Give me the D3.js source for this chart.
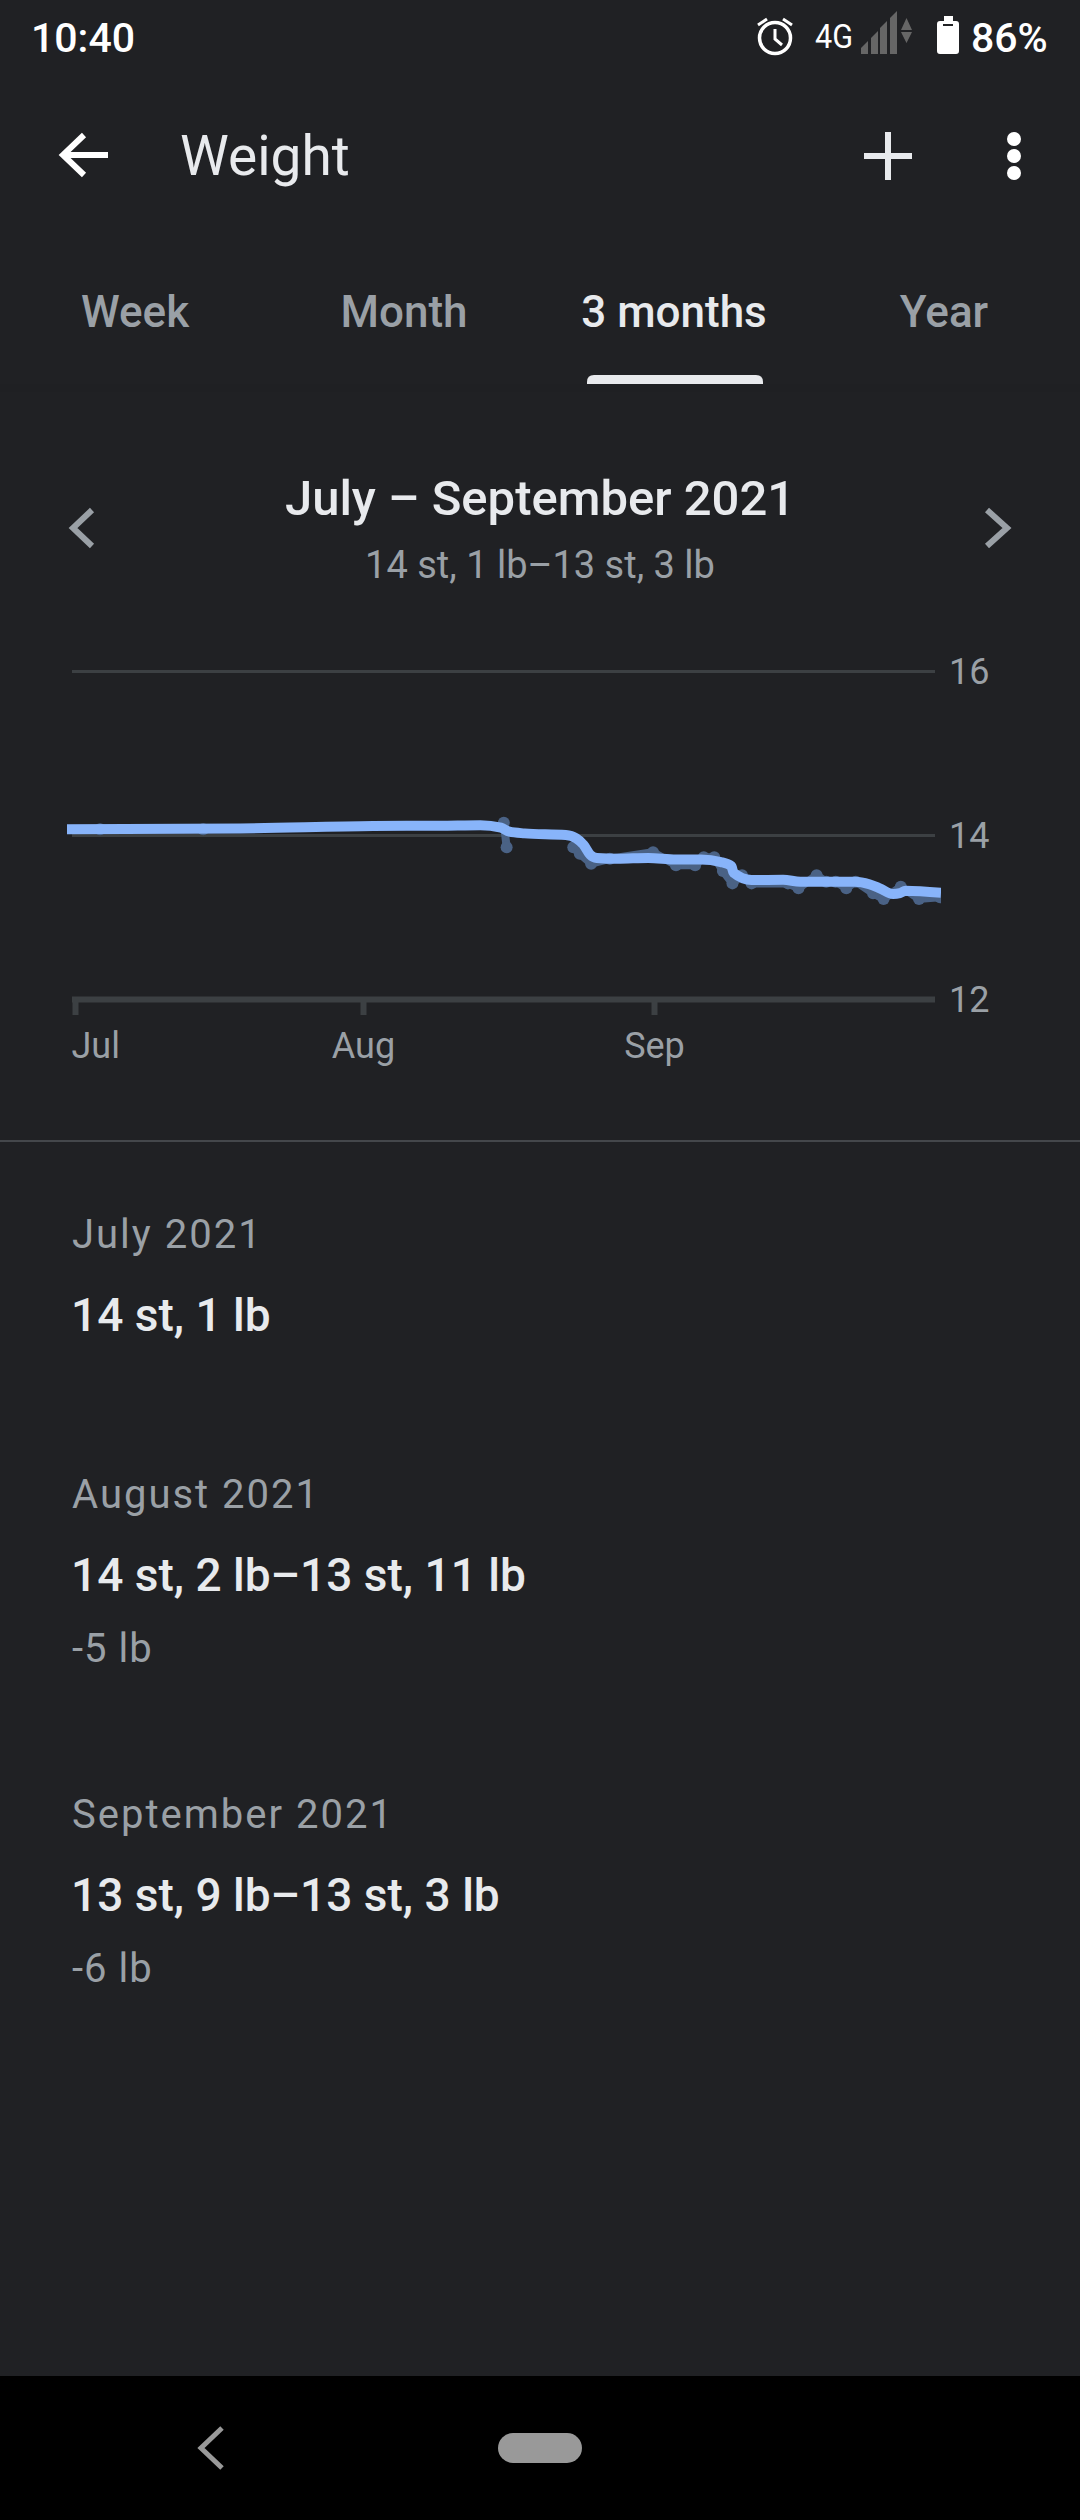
<!DOCTYPE html>
<html>
<head>
<meta charset="utf-8">
<script src="https://cdn.jsdelivr.net/npm/d3@7"></script>
<style>
  html, body { margin: 0; padding: 0; background: #202124; }
  svg { display: block; }
  text { font-family: Roboto, sans-serif; }
</style>
</head>
<body>
<svg width="1080" height="2520"></svg>
<script>
// Days counted from 1 July 2021
const trendDays = [-0.9, 17.8, 32.1, 39.2, 43.5, 45.7, 46.6, 48.2, 52.6, 53.7, 54.5, 55.2, 55.9, 58.1, 61.4, 64.3, 66.9, 69.0, 70.1, 70.3, 72.2, 75.5, 77.3, 83.0, 84.5, 85.6, 87.0, 87.7, 88.3, 92];
const trendStone = [14.07, 14.08, 14.11, 14.113, 14.12, 14.09, 14.04, 14.02, 14.0, 13.96, 13.88, 13.76, 13.72, 13.71, 13.72, 13.70, 13.70, 13.67, 13.62, 13.54, 13.45, 13.455, 13.43, 13.43, 13.40, 13.35, 13.28, 13.29, 13.32, 13.295];
const readingDays = [2.7, 13.8, 46, 46.3, 53.4, 54.1, 55.3, 57.3, 61.9, 64.3, 66.3, 67.2, 68.3, 69.2, 70.2, 71.2, 72.2, 76, 77.1, 79, 80, 81, 82.1, 83.1, 84.9, 86, 87.8, 89.7, 91.9];
const readingStone = [14.07, 14.07, 14.15, 13.85, 13.85, 13.77, 13.65, 13.71, 13.79, 13.63, 13.63, 13.73, 13.73, 13.56, 13.41, 13.51, 13.41, 13.41, 13.35, 13.51, 13.43, 13.43, 13.35, 13.43, 13.29, 13.22, 13.37, 13.22, 13.24];

const monthDays = [0, 31, 62];
const monthLabels = ["Jul", "Aug", "Sep"];
const stoneTicks = [12, 14, 16];

const tabLabels = ["Week", "Month", "3 months", "Year"];
const periodLabels = ["July 2021", "August 2021", "September 2021"];
const periodRanges = ["14 st, 1 lb", "14 st, 2 lb\u201313 st, 11 lb", "13 st, 9 lb\u201313 st, 3 lb"];
const periodChanges = ["", "-5 lb", "-6 lb"];

const grey = "#9aa0a6";
const white = "#e8eaed";
const svg = d3.select("svg");

function label(x, y, str, size, fill, anchor, weight) {
  return svg.append("text")
    .attr("x", x).attr("y", y)
    .attr("font-size", size)
    .attr("fill", fill)
    .attr("text-anchor", anchor || "start")
    .attr("font-weight", weight || 400)
    .text(str);
}

// Status bar
label(31, 52, "10:40", 41, "#fff", "start", 500);
svg.append("circle").attr("cx", 775).attr("cy", 38).attr("r", 15.5)
  .attr("fill", "none").attr("stroke", "#fff").attr("stroke-width", 3.5);
svg.append("path").attr("d", "M775 29V39L782 45M758 25L767 19M792 25L783 19")
  .attr("fill", "none").attr("stroke", "#fff").attr("stroke-width", 3);
label(815, 48, "4G", 33, "#fff").attr("textLength", 38).attr("lengthAdjust", "spacingAndGlyphs");
[[861, 48], [871, 38], [880, 28], [890, 18]].forEach(b => {
  svg.append("path").attr("d", `M${b[0]} 54V${b[1]}L${b[0] + 7} ${b[1] - 7}V54Z`).attr("fill", "#666");
});
svg.append("path").attr("d", "M901 30L906.5 18L912 30ZM901 32L906.5 43L912 32Z").attr("fill", "#666");
svg.append("path").attr("d", "M937 24Q937 21 940 21H944V16H953V21H956Q959 21 959 24V51Q959 54 956 54H940Q937 54 937 51Z").attr("fill", "#fff");
svg.append("rect").attr("x", 943).attr("y", 24).attr("width", 10).attr("height", 2).attr("fill", "#202124");
label(971, 52, "86%", 41, "#fff", "start", 500);

// App bar
svg.append("path").attr("d", "M108 155H64M84 135L63 155L84 175")
  .attr("fill", "none").attr("stroke", "#fff").attr("stroke-width", 6);
label(180, 175, "Weight", 55, white);
svg.append("path").attr("d", "M888 132V180M864 156H912")
  .attr("fill", "none").attr("stroke", white).attr("stroke-width", 6);
[139, 156, 173].forEach(cy => svg.append("circle").attr("cx", 1014).attr("cy", cy).attr("r", 7).attr("fill", "#fff"));

// Tabs
const tabX = [135, 404, 674, 944];
tabLabels.forEach((t, i) => label(tabX[i], 327, t, 44, i === 2 ? white : grey, "middle", 500));
svg.append("path").attr("d", "M587 384V382Q587 375 594 375H756Q763 375 763 382V384Z").attr("fill", white);
svg.append("rect").attr("x", 0).attr("y", 384).attr("width", 1080).attr("height", 8).attr("fill", "#1f2023");

// Period header
label(540, 515, "July \u2013 September 2021", 49, white, "middle", 500);
label(540, 578, "14 st, 1 lb\u201313 st, 3 lb", 38, grey, "middle");
svg.append("path").attr("d", "M92 510L73 528L92 546M987 510L1007 528L987 546")
  .attr("fill", "none").attr("stroke", grey).attr("stroke-width", 6);

// Scales
const x = d3.scaleLinear().domain([0, 31, 62, 92]).range([75, 363, 654, 941]);
const y = d3.scaleLinear().domain([12, 16]).range([999, 671]);

// Gridlines and stone labels
const yAxis = svg.append("g")
  .attr("transform", "translate(935,0)")
  .call(d3.axisRight(y).tickValues(stoneTicks).tickSize(-863).tickPadding(14).tickFormat(d3.format("d")));
yAxis.select(".domain").remove();
yAxis.selectAll("line").attr("stroke", "#3c4043").attr("stroke-width", d => d === 12 ? 6 : 3);
yAxis.selectAll("text").attr("font-size", 36).attr("fill", grey).attr("font-family", "Roboto, sans-serif")
  .attr("y", 1);

// Month axis
const xAxis = svg.append("g")
  .attr("transform", "translate(0,999)")
  .call(d3.axisBottom(x).tickValues(monthDays).tickSize(16).tickPadding(17)
    .tickFormat((d, i) => monthLabels[i]));
xAxis.select(".domain").remove();
xAxis.selectAll("line").attr("stroke", "#3c4043").attr("stroke-width", 6);
xAxis.selectAll("text").attr("font-size", 36).attr("fill", grey).attr("font-family", "Roboto, sans-serif")
  .attr("text-anchor", (d, i) => i === 0 ? "start" : "middle")
  .attr("dx", (d, i) => i === 0 ? -4 : 0);

// Marks stop square at the plot's edges
svg.append("clipPath").attr("id", "plot")
  .append("rect").attr("x", 67).attr("y", 671).attr("width", 874).attr("height", 328);
const plot = svg.append("g").attr("clip-path", "url(#plot)");

// Individual readings, joined by a dim line where they run on
const readings = readingDays.map((d, i) => [d, readingStone[i]]);
const trend = trendDays.map((d, i) => [d, trendStone[i]]);
const readingLine = d3.line().x(d => x(d[0])).y(d => y(d[1]));

[readings.slice(2, 4), readings.slice(4)].forEach(run => {
  plot.append("path")
    .datum(run)
    .attr("fill", "none").attr("stroke", "#4a6285").attr("stroke-width", 8)
    .attr("d", readingLine);
});
plot.append("g").selectAll("circle").data(readings).join("circle")
  .attr("cx", d => x(d[0])).attr("cy", d => y(d[1])).attr("r", 6).attr("fill", "#4a6285");

// Smoothed trend
plot.append("path")
  .datum(trend)
  .attr("fill", "none").attr("stroke", "#88b4fa").attr("stroke-width", 10)
  .attr("d", d3.line().curve(d3.curveMonotoneX).x(d => x(d[0])).y(d => y(d[1])));

// Divider and monthly summary
svg.append("rect").attr("x", 0).attr("y", 1140).attr("width", 1080).attr("height", 2).attr("fill", "#44474b");
const periodY = [1248, 1508, 1828];
periodLabels.forEach((p, i) => {
  label(72, periodY[i], p, 40, grey).attr("letter-spacing", 2);
  label(71, periodY[i] + 83, periodRanges[i], 46, white, "start", 500);
  if (periodChanges[i]) label(72, periodY[i] + 154, periodChanges[i], 40, grey).attr("letter-spacing", 1);
});

// Navigation bar
svg.append("rect").attr("x", 0).attr("y", 2376).attr("width", 1080).attr("height", 144).attr("fill", "#000");
svg.append("path").attr("d", "M222 2428L201 2448L222 2468")
  .attr("fill", "none").attr("stroke", "#999").attr("stroke-width", 5);
svg.append("rect").attr("x", 498).attr("y", 2433).attr("width", 84).attr("height", 30).attr("rx", 15).attr("fill", "#999");
</script>
</body>
</html>
